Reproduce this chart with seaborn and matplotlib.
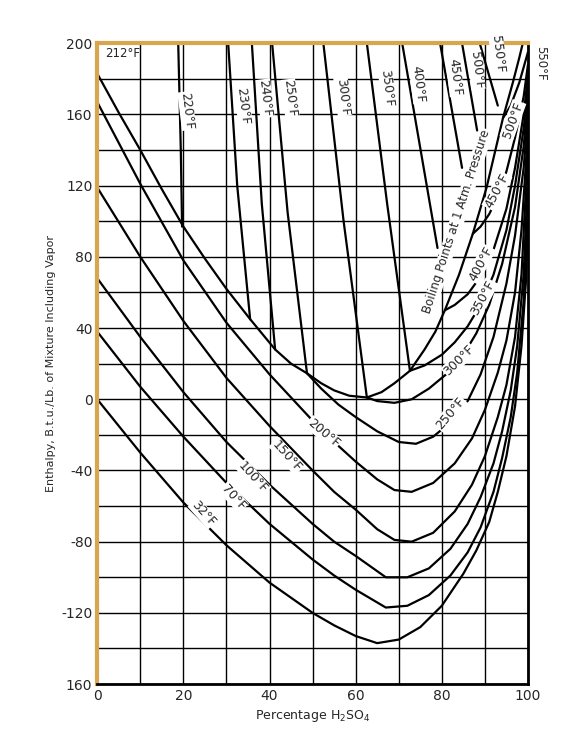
import numpy as np
import seaborn as sns
import matplotlib.pyplot as plt

sns.set_style('white')
plt.rcParams['font.family'] = ['DejaVu Sans']

# liquid isotherms: (percent H2SO4, enthalpy)
liquid = {
    '32°F': [(0, 0), (10, -30), (20, -58), (30, -82), (40, -103), (50, -120), (55, -127), (60, -133),
             (65, -137), (70, -135), (75, -128), (80, -116), (85, -98), (88, -85), (91, -69), (93, -52),
             (95, -32), (97, -4), (98.5, 30), (99.5, 65), (100, 100)],
    '70°F': [(0, 38), (10, 7), (20, -21), (30, -47), (40, -70), (50, -90), (55, -99), (60, -107),
             (67, -117), (72, -116), (77, -110), (82, -99), (86, -86), (89, -72), (92, -52), (94, -33),
             (96, -10), (97.5, 15), (99, 55), (100, 115)],
    '100°F': [(0, 68), (10, 35), (20, 4), (30, -24), (40, -48), (50, -70), (55, -80), (60, -88),
              (67, -100), (72, -100), (77, -95), (82, -84), (86, -70), (89, -55), (92, -36), (94, -18),
              (96, 5), (97.5, 30), (99, 70), (100, 125)],
    '150°F': [(0, 119), (10, 80), (20, 44), (30, 12), (40, -15), (50, -40), (55, -52), (60, -62),
              (65, -73), (69, -79), (73, -80), (78, -75), (83, -63), (87, -48), (90, -32), (93, -10),
              (95, 8), (97, 35), (98.5, 70), (100, 140)],
    '200°F': [(0, 167), (10, 121), (20, 78), (30, 43), (40, 14), (50, -12), (55, -24), (60, -35),
              (65, -45), (69, -51), (73, -52), (78, -47), (83, -36), (87, -22), (90, -6), (93, 15),
              (95, 33), (97, 60), (98.5, 95), (100, 150)],
    '250°F': [(48.7, 14.6), (52, 6), (56, -3), (60, -10), (65, -18), (70, -24), (74, -25), (78, -21),
              (82, -13), (86, -1), (89, 14), (92, 35), (95, 65), (97, 92), (99, 130), (100, 160)],
    '300°F': [(62.6, 1), (65, -1), (69, -2), (73, 0), (77, 6), (81, 14), (85, 25), (88, 37), (91, 53),
              (94, 76), (97, 108), (99, 142), (100, 168)],
    '350°F': [(72.6, 16), (76, 19), (80, 25), (83, 32), (86, 41), (89, 53), (92, 70), (95, 95),
              (97, 120), (99, 152), (100, 175)],
    '400°F': [(80.7, 50), (83, 53), (86, 59), (89, 69), (92, 84), (95, 107), (97, 130), (99, 160), (100, 182)],
    '450°F': [(87.2, 93), (89, 97), (91, 104), (93, 114), (95, 128), (97, 147), (99, 170), (100, 188)],
    '500°F': [(94.2, 158), (96, 165), (98, 178), (100, 195)],
}

boiling = [(0, 183), (5, 161), (10, 140), (15, 118), (20, 97), (25, 79), (30, 62), (35.5, 45),
           (41.3, 28), (45, 20), (48.7, 14.6), (52, 9), (55, 5), (58.5, 2), (62.6, 1), (66, 4),
           (69, 9), (72.6, 16), (76, 28), (78.5, 38), (80.7, 50), (84, 70), (87.2, 93),
           (90.4, 119), (94.2, 158), (96.5, 178), (98, 192), (98.8, 200)]

# vapour isotherms in the two-phase region: top and bottom points
vapor = {
    '220°F': [(18.8, 200), (19.4, 140), (19.7, 97)],
    '230°F': [(30.4, 200), (32.5, 120), (35.5, 45)],
    '240°F': [(35.9, 200), (38.2, 110), (41.3, 28)],
    '250°F': [(40.6, 200), (44.2, 105), (48.7, 14.6)],
    '300°F': [(52.5, 200), (57.2, 100), (62.6, 1)],
    '350°F': [(62.6, 200), (67.3, 110), (72.6, 16)],
    '400°F': [(70.8, 200), (79, 85)],
    '450°F': [(79.6, 200), (84.7, 130)],
    '500°F': [(84.7, 200), (88.2, 151)],
    '550°F': [(88.8, 200), (93, 165)],
}

vapor_labels = [('220°F', 20.8, 162), ('230°F', 33.9, 165), ('240°F', 39, 169), ('250°F', 44.8, 169),
                ('300°F', 57, 170), ('350°F', 67.3, 175), ('400°F', 74.5, 177), ('450°F', 83, 181),
                ('500°F', 88, 185), ('550°F', 93, 194)]
liquid_labels = [('32°F', 24.6, -64, -48), ('70°F', 31.6, -55, -48), ('100°F', 36.2, -44, -48),
                 ('150°F', 44, -32, -48), ('200°F', 52.5, -19, -40), ('250°F', 82, -8, 50),
                 ('300°F', 84, 22, 45), ('350°F', 89.6, 57, 62), ('400°F', 89, 76, 62),
                 ('450°F', 92.8, 117, 62), ('500°F', 96.5, 157, 70)]

fig = plt.figure(figsize=(5.72, 7.46), dpi=100)
ax = fig.add_axes([0.170, 0.083, 0.753, 0.859])

for name, pts in liquid.items():
    x, y = zip(*pts)
    sns.lineplot(x=list(x), y=list(y), ax=ax, color='black', lw=1.6, sort=False)
x, y = zip(*boiling)
sns.lineplot(x=list(x), y=list(y), ax=ax, color='black', lw=1.6, sort=False)
for name, pts in vapor.items():
    x, y = zip(*pts)
    sns.lineplot(x=list(x), y=list(y), ax=ax, color='black', lw=1.6, sort=False)

box = dict(facecolor='white', edgecolor='none', pad=0.5)
for t, x, y in vapor_labels:
    ax.text(x, y, t, rotation=-83, ha='center', va='center', fontsize=9, bbox=box)
for t, x, y, r in liquid_labels:
    ax.text(x, y, t, rotation=r, ha='center', va='center', fontsize=9, bbox=box)
ax.text(83.5, 100, 'Boiling Points at 1 Atm. Pressure', rotation=72, ha='center', va='center',
        fontsize=8.5, bbox=box)
ax.text(6, 194, '212°F', fontsize=8.5, ha='center', va='center')
ax.text(103, 189, '550°F', rotation=-90, fontsize=8.5, ha='center', va='center', clip_on=False)

ax.set_xlim(0, 100)
ax.set_ylim(-160, 200)
ax.set_xticks(np.arange(0, 101, 10))
ax.set_xticklabels(['0', '', '20', '', '40', '', '60', '', '80', '', '100'])
ax.set_yticks(np.arange(-160, 201, 20))
ax.set_yticklabels([('160' if v == -160 else str(v)) if v % 40 == 0 else '' for v in range(-160, 201, 20)])
ax.grid(True, color='black', lw=1.0)
ax.tick_params(length=0, labelsize=10)
ax.set_xlabel('Percentage H$_2$SO$_4$', fontsize=9)
ax.set_ylabel('Enthalpy, B.t.u./Lb. of Mixture Including Vapor', fontsize=8)
for side in ['bottom', 'right']:
    ax.spines[side].set_color('black')
    ax.spines[side].set_linewidth(2)
for side in ['left', 'top']:
    ax.spines[side].set_color('#d9a650')
    ax.spines[side].set_linewidth(3)

fig.savefig('out.png', dpi=100)
